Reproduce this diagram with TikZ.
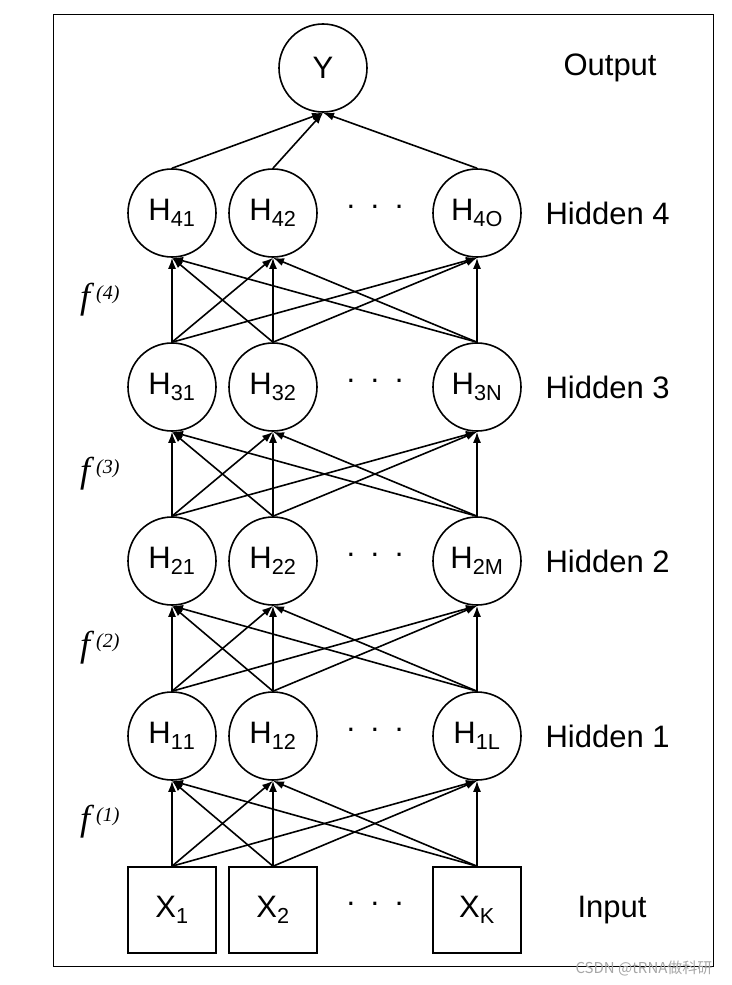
\documentclass[tikz,border=0pt]{standalone}
\usepackage{fontspec}
\setmainfont{Liberation Sans}
\newfontfamily\serifit{Liberation Serif}
\newfontfamily\cjk{Noto Sans CJK SC}
\usetikzlibrary{arrows.meta}
\begin{document}
\begin{tikzpicture}[x=1pt,y=-1pt,
  neu/.style={circle,draw,line width=1.6pt,minimum size=88pt,inner sep=0pt,font=\fontsize{31}{34}\selectfont},
  inp/.style={rectangle,draw,line width=1.6pt,minimum width=88pt,minimum height=86pt,inner sep=0pt,font=\fontsize{31}{34}\selectfont},
  lab/.style={anchor=west,font=\fontsize{31}{34}\selectfont},
  fl/.style={font=\fontsize{36}{40}\serifit\itshape},
  dots/.style={font=\fontsize{31}{34}\selectfont},
  con/.style={line width=1.6pt,-{Latex[length=11pt,width=8pt]}}]
\useasboundingbox (0,0) rectangle (731,985);
\draw[line width=1pt] (53,14) rectangle (713,966);
% nodes
\node[neu] (Y) at (323,68) {Y};
\node[neu] (a1) at (172,213) {H$_{\mathrm{41}}$};
\node[neu] (a2) at (273,213) {H$_{\mathrm{42}}$};
\node[neu] (a3) at (477,213) {H$_{\mathrm{4O}}$};
\node[neu] (b1) at (172,387) {H$_{\mathrm{31}}$};
\node[neu] (b2) at (273,387) {H$_{\mathrm{32}}$};
\node[neu] (b3) at (477,387) {H$_{\mathrm{3N}}$};
\node[neu] (c1) at (172,561) {H$_{\mathrm{21}}$};
\node[neu] (c2) at (273,561) {H$_{\mathrm{22}}$};
\node[neu] (c3) at (477,561) {H$_{\mathrm{2M}}$};
\node[neu] (d1) at (172,736) {H$_{\mathrm{11}}$};
\node[neu] (d2) at (273,736) {H$_{\mathrm{12}}$};
\node[neu] (d3) at (477,736) {H$_{\mathrm{1L}}$};
\node[inp] (e1) at (172,910) {X$_{\mathrm{1}}$};
\node[inp] (e2) at (273,910) {X$_{\mathrm{2}}$};
\node[inp] (e3) at (477,910) {X$_{\mathrm{K}}$};
% dots
\foreach \y/\n in {213/p1,387/p2,561/p3,736/p4,910/p5} \node[dots] (\n) at (375,\y-6) {.\,\,\,.\,\,\,.};
% labels
\node[lab] (l0) at (560,68) {Output};
\node[lab] (l1) at (542,213) {Hidden 4};
\node[lab] (l2) at (542,387) {Hidden 3};
\node[lab] (l3) at (542,561) {Hidden 2};
\node[lab] (l4) at (542,736) {Hidden 1};
\node[lab] (l5) at (574,910) {Input};
\node[fl] (f4) at (100,300) {f\,$^{\mbox{\fontsize{20}{22}\serifit\itshape(4)}}$};
\node[fl] (f3) at (100,474) {f\,$^{\mbox{\fontsize{20}{22}\serifit\itshape(3)}}$};
\node[fl] (f2) at (100,648) {f\,$^{\mbox{\fontsize{20}{22}\serifit\itshape(2)}}$};
\node[fl] (f1) at (100,822) {f\,$^{\mbox{\fontsize{20}{22}\serifit\itshape(1)}}$};
% connections
\foreach \lo/\hi in {e/d,d/c,c/b,b/a}
  \foreach \i in {1,2,3}
    \foreach \j in {1,2,3}
      \draw[con] (\lo\i.north) -- (\hi\j.south);
\foreach \i in {1,2,3} \draw[con] (a\i.north) -- (Y.south);
\node[anchor=east,text=gray!70,font=\fontsize{15}{17}\cjk] (wm) at (716,968) {CSDN @tRNA做科研};
\end{tikzpicture}
\end{document}
